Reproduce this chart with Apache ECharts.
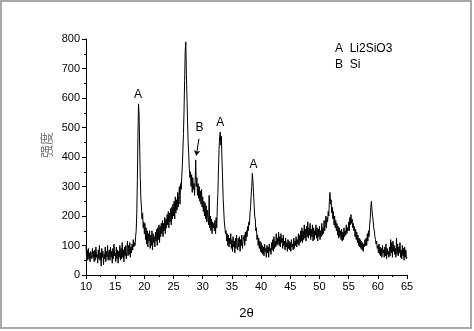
<!DOCTYPE html>
<html><head><meta charset="utf-8">
<script src="https://cdn.jsdelivr.net/npm/echarts@6/dist/echarts.min.js"></script>
<style>html,body{margin:0;padding:0;background:#fff}#c{width:474px;height:331px}</style>
</head><body><div id="c"></div>
<script>
// 2θ grid: from 10° to 65° in 0.1° steps
const startAngle = 10, stepAngle = 0.1;
// Intensity values (10 per degree)
const intensity = [
 100,60,85,50,90,55,75,45,80,65,
 55,90,60,80,45,85,50,95,60,70,
 40,85,55,100,50,75,30,90,60,80,
 35,70,55,95,45,80,60,100,50,75,
 85,50,95,60,80,40,90,55,105,65,
 75,45,95,55,85,40,80,60,100,50,
 90,55,110,60,85,45,95,65,100,55,
 80,115,65,100,70,110,60,95,75,105,
 85,120,95,110,100,130,150,210,320,470,
 580,540,430,330,260,230,190,210,160,180,
 140,175,120,160,105,150,95,140,115,150,
 90,135,100,150,85,140,110,130,95,145,
 115,155,100,160,120,170,110,165,130,175,
 140,185,130,175,150,195,140,190,160,205,
 170,215,160,210,180,225,170,230,190,240,
 200,250,190,265,210,255,220,280,230,270,
 300,240,310,290,330,370,420,480,560,660,
 760,790,680,600,520,450,410,360,330,350,
 300,340,280,330,290,310,270,320,390,300,
 330,270,310,260,300,250,285,240,290,230,
 265,215,250,200,245,190,235,180,220,195,
 170,270,160,200,150,190,140,180,160,175,
 150,185,140,195,160,230,280,360,430,470,
 485,440,470,390,330,260,220,180,160,140,
 150,115,140,100,135,95,125,105,140,90,
 120,80,130,95,115,75,125,90,135,100,
 85,125,95,130,80,120,100,135,90,115,
 110,135,100,145,115,150,130,165,150,180,
 170,210,230,270,300,345,320,280,240,200,
 190,150,160,120,135,100,125,90,115,80,
 110,75,100,70,95,65,105,80,90,60,
 100,75,95,60,105,80,90,70,110,85,
 120,80,130,90,115,95,140,100,125,105,
 145,100,130,95,140,110,125,90,135,100,
 115,85,125,95,110,80,120,90,115,85,
 110,80,120,95,105,85,125,90,115,100,
 130,95,120,105,140,100,135,110,150,115,
 160,110,150,120,170,125,155,115,165,130,
 180,125,160,135,175,120,155,130,170,115,
 160,120,150,135,170,125,160,115,155,130,
 165,120,150,130,175,135,160,140,185,150,
 170,200,160,195,180,215,200,250,280,240,
 255,210,230,190,215,170,200,160,185,150,
 175,135,165,125,160,130,150,120,155,115,
 145,120,160,130,150,135,170,140,160,150,
 180,150,195,170,205,175,190,160,175,150,
 165,130,155,120,145,110,135,100,125,95,
 120,90,115,85,110,80,105,95,120,100,
 125,100,140,115,150,130,170,190,230,250,
 220,200,185,160,150,130,120,105,115,90,
 100,75,105,70,95,65,90,60,100,75,
 85,60,95,65,105,55,90,70,80,60,
 95,65,120,75,110,60,115,80,100,70,
 90,60,125,70,105,65,95,75,110,60,
 85,55,100,65,90,50,95,60,85,55,
 60
];
// peak annotations
const peakLabels = ['A','A','B','A','A'];
const peakX = [18.9, 27.05, 29.45, 33.0, 38.7];
const peakY = [610, 808, 499, 517, 373];
// arrow for B
const arrowFrom = [29.35, 462];
const arrowTo = [28.9, 405];
// legend text
const legendLines = ['A  Li2SiO3', 'B  Si'];

const seriesData = intensity.map((v,i)=>[+(startAngle + i*stepAngle).toFixed(2), v]);

const chart = echarts.init(document.getElementById('c'), null, {renderer:'canvas'});
const axisCommon = {
  axisLine:{show:true, lineStyle:{color:'#000', width:1}},
  axisTick:{show:true, inside:false, length:4, lineStyle:{color:'#000'}},
  minorTick:{show:true, splitNumber:2, length:2, lineStyle:{color:'#000'}},
  splitLine:{show:false},
  axisLabel:{color:'#000', fontSize:11, fontFamily:'Liberation Sans, Arial', margin:6}
};
chart.setOption({
  animation:false,
  backgroundColor:'#fff',
  grid:{left:86, right:67, top:39, bottom:56, containLabel:false},
  xAxis:Object.assign({type:'value', min:10, max:65, interval:5,
    name:'2θ', nameLocation:'middle', nameGap:32,
    nameTextStyle:{color:'#000', fontSize:13, fontFamily:'Liberation Sans, Arial'}}, axisCommon),
  yAxis:Object.assign({type:'value', min:0, max:800, interval:100}, axisCommon),
  series:[{
    type:'line', data:seriesData, symbol:'none', silent:true,
    lineStyle:{color:'#000', width:1},
    markPoint:{
      symbol:'circle', symbolSize:0,
      label:{show:true, position:'inside', color:'#000', fontSize:12, fontFamily:'Liberation Sans, Arial'},
      data: peakLabels.map((t,i)=>({coord:[peakX[i], peakY[i]], value:t, label:{formatter:t}}))
    },
    markLine:{
      silent:true, symbol:['none','arrow'], symbolSize:5,
      lineStyle:{color:'#000', width:1, type:'solid'},
      label:{show:false},
      data:[[{coord:arrowFrom},{coord:arrowTo}]]
    }
  }],
  graphic:[
    {type:'rect', shape:{x:1, y:1, width:470, height:327}, style:{fill:'none', stroke:'#a8a8a8', lineWidth:2}, silent:true},
    {type:'text', left:335, top:43, style:{text:legendLines[0], fill:'#000', font:'12px Liberation Sans, Arial'}},
    {type:'text', left:335, top:59, style:{text:legendLines[1], fill:'#000', font:'12px Liberation Sans, Arial'}},
    {type:'text', x:46, y:145, rotation:Math.PI/2, style:{text:'强度', fill:'#777', font:'13px "Noto Sans CJK SC"', align:'center', verticalAlign:'middle'}}
  ]
});
</script></body></html>
